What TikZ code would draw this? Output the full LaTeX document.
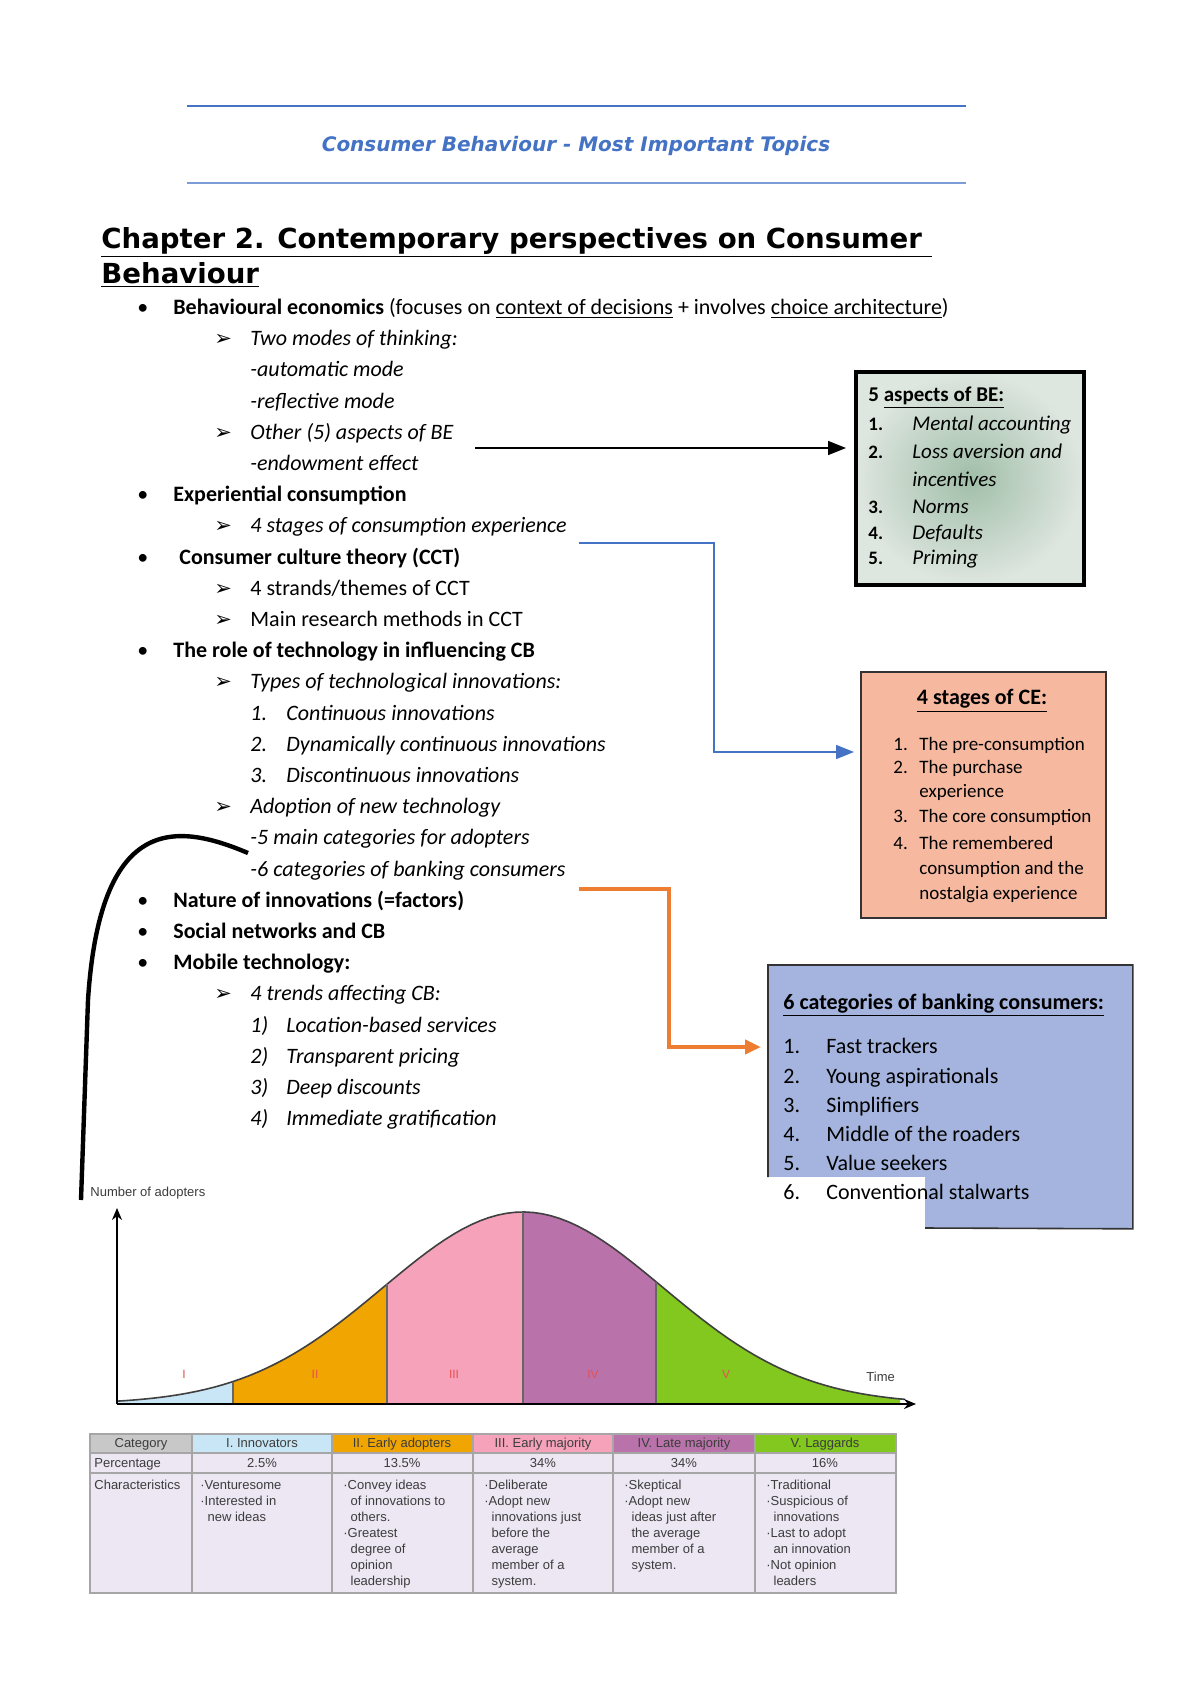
\documentclass[tikz,border=0pt]{standalone}
\usepackage{fontspec}
\setmainfont{Carlito}
\newfontfamily\dejavu{DejaVu Sans}
\newfontfamily\arialf{Liberation Sans}
\usetikzlibrary{arrows.meta}
\definecolor{hblue}{RGB}{68,114,196}
\definecolor{orng}{RGB}{237,125,49}
\definecolor{salmon}{RGB}{246,185,160}
\definecolor{bank}{RGB}{164,180,222}
\definecolor{cinn}{RGB}{200,230,245}
\definecolor{cea}{RGB}{240,165,0}
\definecolor{cem}{RGB}{245,162,186}
\definecolor{clm}{RGB}{185,115,170}
\definecolor{clag}{RGB}{130,200,30}
\definecolor{tbody}{RGB}{236,231,243}
\definecolor{tgray}{RGB}{200,200,200}
\definecolor{ttext}{RGB}{60,60,60}
\definecolor{rlab}{RGB}{230,80,80}
\begin{document}
\begin{tikzpicture}[x=0.5pt,y=-0.5pt,
  body/.style={anchor=base west,inner sep=0pt,font=\fontsize{11}{13}\selectfont},
  bul/.style={anchor=base west,inner sep=0pt,font=\fontsize{11}{13}\selectfont},
  arr/.style={anchor=base west,inner sep=0pt,font=\dejavu\fontsize{10.5}{12}\selectfont},
  boxitem/.style={anchor=base west,inner sep=0pt,font=\fontsize{10.5}{12}\selectfont},
  tsmall/.style={anchor=base west,inner sep=0pt,font=\arialf\fontsize{6.5}{8}\selectfont,text=ttext},
  tsmallc/.style={anchor=base,inner sep=0pt,font=\arialf\fontsize{6.5}{8}\selectfont,text=ttext},
  rom/.style={anchor=center,inner sep=0pt,font=\arialf\fontsize{6}{7}\selectfont,text=rlab},
  cell/.style={draw=gray!70,line width=0.6pt}]
\useasboundingbox (0,0) rectangle (1200,1698);
\fill[white] (0,0) rectangle (1200,1698);
% header
\draw[hblue,line width=1pt] (187,106) -- (966,106);
\draw[hblue!70,line width=0.6pt] (187,183) -- (966,183);
\node[inner sep=0pt,text=hblue,font=\dejavu\bfseries\itshape\fontsize{10}{12}\selectfont] (hdr) at (576,146) {Consumer Behaviour - Most Important Topics};
\node[anchor=base west,inner sep=0pt,font=\dejavu\bfseries\fontsize{13.8}{16}\selectfont] (ch1) at (101,248) {\underline{Chapter 2. Contemporary perspectives on Consumer\ }};
\node[anchor=base west,inner sep=0pt,font=\dejavu\bfseries\fontsize{13.8}{16}\selectfont] (ch2) at (101,283) {\underline{Behaviour}};
% bullets
\foreach \n/\y in {b0/314,b6/501,b8/564,b11/657,b19/907,b20/938,b21/969}{\node[bul] (\n) at (137,\y) {•};}
\foreach \n/\y in {a1/345,a4/439,a7/532,a9/595,a10/626,a12/688,a16/813,a22/1000}{\node[arr] (\n) at (214,\y) {➢};}
\node[body] (t0) at (173,314) {\textbf{Behavioural economics} (focuses on \underline{context of decisions} + involves \underline{choice architecture})};
\node[body] (t1) at (250,345) {\itshape Two modes of thinking:};
\node[body] (t2) at (250,376) {\itshape -automatic mode};
\node[body] (t3) at (250,408) {\itshape -reflective mode};
\node[body] (t4) at (250,439) {\itshape Other (5) aspects of BE};
\node[body] (t5) at (250,470) {\itshape -endowment effect};
\node[body] (t6) at (173,501) {\textbf{Experiential consumption}};
\node[body] (t7) at (250,532) {\itshape 4 stages of consumption experience};
\node[body] (t8) at (179,564) {\textbf{Consumer culture theory (CCT)}};
\node[body] (t9) at (250,595) {4 strands/themes of CCT};
\node[body] (t10) at (250,626) {Main research methods in CCT};
\node[body] (t11) at (173,657) {\textbf{The role of technology in influencing CB}};
\node[body] (t12) at (250,688) {\itshape Types of technological innovations:};
\node[body] (n13) at (250,720) {\itshape 1.};
\node[body] (t13) at (286,720) {\itshape Continuous innovations};
\node[body] (n14) at (250,751) {\itshape 2.};
\node[body] (t14) at (286,751) {\itshape Dynamically continuous innovations};
\node[body] (n15) at (250,782) {\itshape 3.};
\node[body] (t15) at (286,782) {\itshape Discontinuous innovations};
\node[body] (t16) at (250,813) {\itshape Adoption of new technology};
\node[body] (t17) at (250,844) {\itshape -5 main categories for adopters};
\node[body] (t18) at (250,876) {\itshape -6 categories of banking consumers};
\node[body] (t19) at (173,907) {\textbf{Nature of innovations (=factors)}};
\node[body] (t20) at (173,938) {\textbf{Social networks and CB}};
\node[body] (t21) at (173,969) {\textbf{Mobile technology:}};
\node[body] (t22) at (250,1000) {\itshape 4 trends affecting CB:};
\node[body] (n23) at (250,1032) {\itshape 1)};
\node[body] (t23) at (286,1032) {\itshape Location-based services};
\node[body] (n24) at (250,1063) {\itshape 2)};
\node[body] (t24) at (286,1063) {\itshape Transparent pricing};
\node[body] (n25) at (250,1094) {\itshape 3)};
\node[body] (t25) at (286,1094) {\itshape Deep discounts};
\node[body] (n26) at (250,1125) {\itshape 4)};
\node[body] (t26) at (286,1125) {\itshape Immediate gratification};
% BE box
\node[draw,line width=1.8pt,shade,inner color={rgb,255:red,160;green,190;blue,168},outer color={rgb,255:red,222;green,230;blue,224},minimum width=114pt,minimum height=106.5pt,anchor=north west,inner sep=0pt] (be) at (854,370) {};
\node[boxitem] (beT) at (868,401) {\textbf{5 \underline{aspects of BE:}}};
\foreach \n/\y/\num/\txt in {be1/430/1./Mental accounting,be2/458/2./Loss aversion and,be3/486//incentives,be4/513/3./Norms,be5/539/4./Defaults,be6/564/5./Priming}{
  \node[boxitem,font=\fontsize{9.5}{11}\selectfont\bfseries] (\n n) at (868,\y) {\num};
  \node[boxitem,font=\fontsize{10.5}{12}\selectfont\itshape] (\n) at (912,\y) {\txt};}
% CE box
\node[draw=black!80,line width=1pt,fill=salmon,minimum width=122.5pt,minimum height=123pt,anchor=north west,inner sep=0pt] (ce) at (860,671) {};
\node[inner sep=0pt,font=\fontsize{11}{13}\selectfont\bfseries] (ceT) at (982,701) {\underline{4 stages of CE:}};
\foreach \n/\y/\num/\txt in {ce1/750/1./The pre-consumption,ce2/773/2./The purchase,ce3/797//experience,ce4/822/3./The core consumption,ce5/849/4./The remembered,ce6/874//consumption and the,ce7/899//nostalgia experience}{
  \node[boxitem,font=\fontsize{9.5}{11}\selectfont] (\n n) at (893,\y) {\num};
  \node[boxitem,font=\fontsize{9.5}{11}\selectfont] (\n) at (919,\y) {\txt};}
% bank box
\node[fill=bank,minimum width=182pt,minimum height=131.5pt,anchor=north west,inner sep=0pt] (bk) at (768,965) {};
\fill[white] (767,1177) rectangle (925,1232);
\draw[black!80,line width=0.8pt] (925,1228) -- (bk.south east) -- (bk.north east) -- (bk.north west) -- (768,1177);
\node[boxitem,font=\fontsize{11}{13}\selectfont\bfseries] (bkT) at (783,1009) {\underline{6 categories of banking consumers:}};
\foreach \n/\y/\num/\txt in {bk1/1053/1./Fast trackers,bk2/1083/2./Young aspirationals,bk3/1112/3./Simplifiers,bk4/1141/4./Middle of the roaders,bk5/1170/5./Value seekers,bk6/1199/6./Conventional stalwarts}{
  \node[boxitem,font=\fontsize{11}{13}\selectfont] (\n n) at (783,\y) {\num};
  \node[boxitem,font=\fontsize{11}{13}\selectfont] (\n) at (826,\y) {\txt};}
% connectors
\coordinate (s1) at (475,448);
\coordinate (e1) at (846,448);
\coordinate (s2) at (579,543);
\coordinate (e2) at (854,752);
\coordinate (s3) at (579,889);
\coordinate (e3) at (761,1047);
\draw[line width=0.8pt,-{Triangle[length=9pt,width=7pt]}] (s1) -- (e1);
\draw[hblue,line width=0.8pt,-{Triangle[length=9pt,width=7pt]}] (s2) -- (714,543) -- (714,752) -- (e2);
\draw[orng,line width=2pt,-{Triangle[length=8pt,width=7pt]}] (s3) -- (669,889) -- (669,1047) -- (e3);
\coordinate (c1) at (248,853);
\coordinate (c2) at (81,1200);
\draw[line width=2.2pt] (c1) .. controls (175,822) and (100,815) .. (88,1000) -- (c2);
% chart
\def\bell#1{1404-192*exp(-0.5*((#1-523)/140)*((#1-523)/140))}
\fill[cinn] (117,1404) -- plot[domain=117:233,samples=25] (\x,{\bell{\x}}) -- (233,1404) -- cycle;
\fill[cea] (233,1404) -- plot[domain=233:387,samples=25] (\x,{\bell{\x}}) -- (387,1404) -- cycle;
\fill[cem] (387,1404) -- plot[domain=387:523,samples=25] (\x,{\bell{\x}}) -- (523,1404) -- cycle;
\fill[clm] (523,1404) -- plot[domain=523:656,samples=25] (\x,{\bell{\x}}) -- (656,1404) -- cycle;
\fill[clag] (656,1404) -- plot[domain=656:900,samples=35] (\x,{\bell{\x}}) -- (900,1404) -- cycle;
\draw[black!75,line width=0.8pt] plot[domain=117:905,samples=90] (\x,{\bell{\x}});
\foreach \xx in {233,387,523,656}{\draw[black!60,line width=0.7pt] (\xx,1404) -- (\xx,{\bell{\xx}});}
\coordinate (orig) at (117,1404);
\coordinate (ytop) at (117,1208);
\coordinate (xend) at (916,1404);
\draw[line width=0.9pt,-{Stealth[length=6pt,width=5pt]}] (orig) -- (ytop);
\draw[line width=0.9pt,-{Stealth[length=6pt,width=5pt]}] (orig) -- (xend);
\node[tsmall] (ylab) at (90,1196) {Number of adopters};
\node[tsmall] (tlab) at (866,1381) {Time};
\foreach \n/\xx/\r in {r1/184/I,r2/315/II,r3/454/III,r4/593/IV,r5/726/V}{\node[rom] (\n) at (\xx,1374) {\r};}
% table
\fill[tbody] (90,1453) rectangle (896,1593);
\fill[tgray] (90,1434) rectangle (192,1453);
\fill[cinn] (192,1434) rectangle (332,1453);
\fill[cea] (332,1434) rectangle (473,1453);
\fill[cem] (473,1434) rectangle (613,1453);
\fill[clm] (613,1434) rectangle (755,1453);
\fill[clag] (755,1434) rectangle (896,1453);
\draw[cell] (90,1434) rectangle (896,1593);
\draw[cell] (90,1453) -- (896,1453);
\draw[cell] (90,1473) -- (896,1473);
\foreach \xx in {192,332,473,613,755}{\draw[cell] (\xx,1434) -- (\xx,1593);}
\foreach \n/\xx/\t in {h0/141/Category,h1/262/I. Innovators,h2/402/II. Early adopters,h3/543/III. Early majority,h4/684/IV. Late majority,h5/825/V. Laggards}{\node[tsmallc] (\n) at (\xx,1447) {\t};}
\node[tsmall] (p0) at (94,1467) {Percentage};
\foreach \n/\xx/\t in {p1/262/2.5\%,p2/402/13.5\%,p3/543/34\%,p4/684/34\%,p5/825/16\%}{\node[tsmallc] (\n) at (\xx,1467) {\t};}
\node[tsmall] (k0) at (94,1489) {Characteristics};
\foreach \col/\xx/\lines in {k1/200/{·Venturesome,·Interested in,\ \ new ideas},k2/343/{·Convey ideas,\ \ of innovations to,\ \ others.,·Greatest,\ \ degree of,\ \ opinion,\ \ leadership},k3/484/{·Deliberate,·Adopt new,\ \ innovations just,\ \ before the,\ \ average,\ \ member of a,\ \ system.},k4/624/{·Skeptical,·Adopt new,\ \ ideas just after,\ \ the average,\ \ member of a,\ \ system.},k5/766/{·Traditional,·Suspicious of,\ \ innovations,·Last to adopt,\ \ an innovation,·Not opinion,\ \ leaders}}{
  \foreach \l [count=\i] in \lines {\node[tsmall] (\col-\i) at (\xx,{1473+16*\i}) {\l};}}
\end{tikzpicture}
\end{document}
